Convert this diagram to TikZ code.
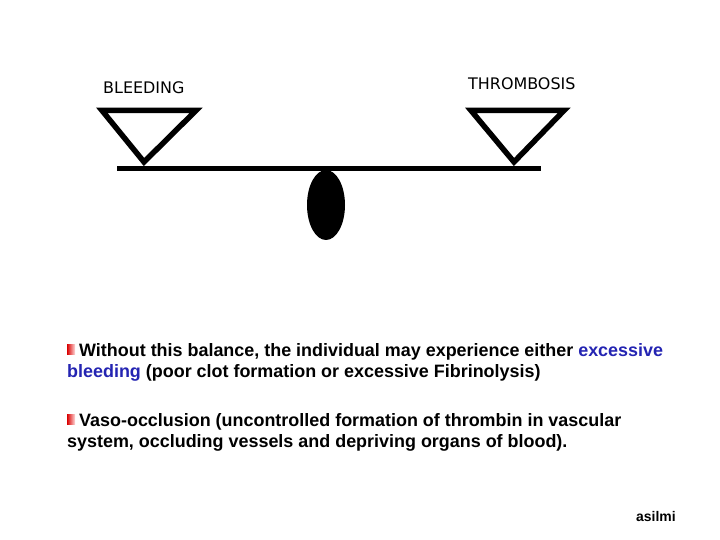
\documentclass[tikz,border=0pt]{standalone}
\usepackage{fontspec}
\setmainfont{Liberation Sans}
\newfontfamily\labelfont{DejaVu Sans}
\definecolor{hiblue}{RGB}{36,36,178}
\tikzset{
  pan/.style={line width=5.5bp, line join=miter},
  scalelabel/.style={font=\labelfont\fontsize{16}{16}\selectfont, anchor=base west, inner sep=0pt},
  bodyline/.style={font=\bfseries\fontsize{18}{21}\selectfont, anchor=base west, inner sep=0pt},
  bulletsq/.style={minimum width=8bp, minimum height=10bp, inner sep=0pt, left color=red!85!black, right color=red!15},
}
\begin{document}
\begin{tikzpicture}[x=1bp,y=-1bp]
    \useasboundingbox (0,0) rectangle (720,540);
    % labels over the pans
    \node[scalelabel] (bleedlbl) at (103,94) {BLEEDING};
    \node[scalelabel] (thrombolbl) at (468,90) {THROMBOSIS};
    % pans
    \draw[pan] (102,110.5) -- (196,110.5) -- (144,162) -- cycle;
    \draw[pan] (471,110.5) -- (564,110.5) -- (514,162) -- cycle;
    % beam and pivot
    \draw[line width=5bp] (117,169) -- (541,169);
    \fill (326,205) ellipse [x radius=19, y radius=35];
    % first point
    \node[bulletsq] (bulletone) at (71,349.5) {};
    \node[bodyline] (lineonea) at (79,356) {Without this balance, the individual may experience either \textcolor{hiblue}{excessive}};
    \node[bodyline] (lineoneb) at (67,377) {\textcolor{hiblue}{bleeding} (poor clot formation or excessive Fibrinolysis)};
    % second point
    \node[bulletsq] (bullettwo) at (71,419) {};
    \node[bodyline] (linetwoa) at (79,426) {Vaso-occlusion (uncontrolled formation of thrombin in vascular};
    \node[bodyline] (linetwob) at (67,447) {system, occluding vessels and depriving organs of blood).};
    % signature
    \node[font=\bfseries\fontsize{14}{14}\selectfont, anchor=base west, inner sep=0pt] (sign) at (636,521) {asilmi};
\end{tikzpicture}
\end{document}
